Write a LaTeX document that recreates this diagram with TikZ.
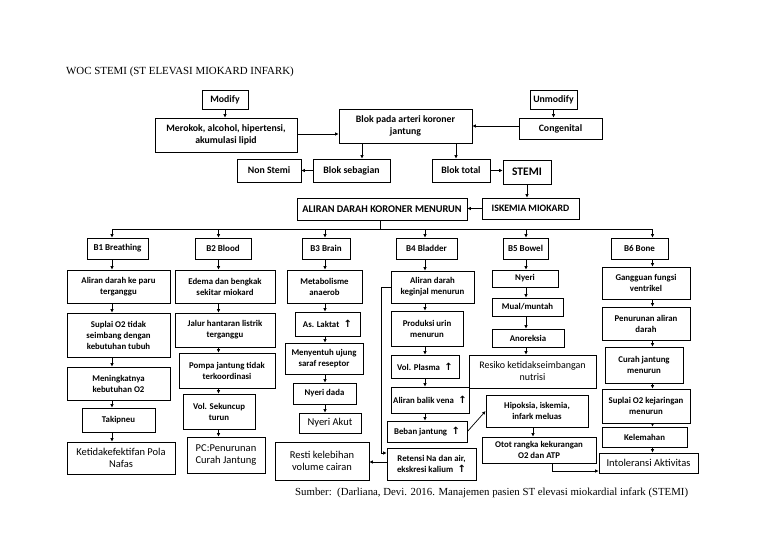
\documentclass[tikz,border=0pt]{standalone}
\usepackage{fontspec}
\setmainfont{Carlito}
\newfontfamily\serifttl{Liberation Serif}
\newfontfamily\symfont{DejaVu Sans}
\usetikzlibrary{arrows.meta}
\newcommand{\upar}{\enspace{\symfont\fontsize{10}{10}\selectfont ↑}}
\newcommand{\mkbox}[7][]{%
  \pgfmathsetmacro\mbw{#5-#3}%
  \pgfmathsetmacro\mbh{#6-#4}%
  \pgfmathsetmacro\mbx{(#3+#5)/2}%
  \pgfmathsetmacro\mby{(#4+#6)/2}%
  \node[bx,minimum width=\mbw pt,minimum height=\mbh pt,#1] (#2) at (\mbx,\mby) {#7};}
\begin{document}
\begin{tikzpicture}[x=1pt,y=-1pt,
  bx/.style={draw,line width=0.8pt,align=center,inner sep=0.5pt,font=\fontsize{8.8}{11}\selectfont\bfseries},
  topf/.style={font=\fontsize{9.8}{12.5}\selectfont\bfseries},
  bfn/.style={font=\fontsize{9}{11}\selectfont\bfseries},
  bigf/.style={font=\fontsize{10.5}{12.5}\selectfont},
  midf/.style={font=\fontsize{10}{12}\selectfont},
  arr/.style={-{Latex[length=3.5pt,width=3.5pt]},line width=0.7pt},
  ln/.style={line width=0.7pt}]
\useasboundingbox (0,0) rectangle (768,543);
\fill[white] (0,0) rectangle (768,543);
% titles
\node[anchor=west,inner sep=0,font=\serifttl\fontsize{10.9}{12}\selectfont] (ttl) at (66,72) {WOC STEMI (ST ELEVASI MIOKARD INFARK)};
\node[anchor=west,inner sep=0,font=\serifttl\fontsize{10.8}{12}\selectfont] (src) at (295,493) {Sumber:~~(Darliana, Devi. 2016. Manajemen pasien ST elevasi miokardial infark (STEMI)};
% top part
\mkbox[topf]{mod}{202}{90}{248}{109}{Modify}
\mkbox[topf]{mer}{155}{118}{297}{152}{Merokok, alcohol, hipertensi,\\akumulasi lipid}
\mkbox[topf]{blk}{339}{109}{472}{143}{Blok pada arteri koroner\\jantung}
\mkbox[topf]{unm}{530}{90}{577}{109}{Unmodify}
\mkbox[topf]{cong}{519}{118}{602}{139}{Congenital}
\mkbox[topf]{ns}{237}{159}{301}{182}{Non Stemi}
\mkbox[topf]{bs}{313}{159}{390}{182}{Blok sebagian}
\mkbox[topf]{bt}{432}{159}{490}{182}{Blok total}
\mkbox[font=\fontsize{11.5}{12}\selectfont\bfseries]{st}{503}{160}{551}{184}{STEMI}
\mkbox[font=\fontsize{10.3}{12}\selectfont\bfseries]{ali}{297}{198}{467}{220}{ALIRAN DARAH KORONER MENURUN}
\mkbox[topf]{isk}{482}{198}{579}{219}{ISKEMIA MIOKARD}
% B row
\mkbox[bfn]{b1}{87}{238}{148}{259}{B1 Breathing}
\mkbox[bfn]{b2}{195}{238}{251}{259}{B2 Blood}
\mkbox[bfn]{b3}{302}{238}{350}{259}{B3 Brain}
\mkbox[bfn]{b4}{396}{238}{457}{259}{B4 Bladder}
\mkbox[bfn]{b5}{503}{238}{548}{259}{B5 Bowel}
\mkbox[bfn]{b6}{611}{238}{668}{259}{B6 Bone}
% column 1
\mkbox{c11}{67}{270}{170}{303}{Aliran darah ke paru\\terganggu}
\mkbox{c12}{67}{313}{170}{357}{Suplai O2 tidak\\seimbang dengan\\kebutuhan tubuh}
\mkbox{c13}{67}{367}{170}{400}{Meningkatnya\\kebutuhan O2}
\mkbox{c14}{82}{408}{155}{432}{Takipneu}
\mkbox[bigf]{c15}{67}{442}{175}{474}{Ketidakefektifan Pola\\Nafas}
% column 2
\mkbox{c21}{175}{270}{275}{303}{Edema dan bengkak\\sekitar miokard}
\mkbox{c22}{175}{313}{275}{347}{Jalur hantaran listrik\\terganggu}
\mkbox{c23}{179}{353}{275}{388}{Pompa jantung tidak\\terkoordinasi}
\mkbox{c24}{183}{394}{255}{429}{Vol. Sekuncup\\turun}
\mkbox[bigf]{c25}{187}{437}{265}{473}{PC:Penurunan\\Curah Jantung}
% column 3
\mkbox{c31}{287}{270}{362}{303}{Metabolisme\\anaerob}
\mkbox{c32}{295}{312}{360}{336}{As. Laktat\upar}
\mkbox{c33}{285}{343}{363}{374}{Menyentuh ujung\\saraf reseptor}
\mkbox{c34}{293}{383}{356}{404}{Nyeri dada}
\mkbox[bigf]{c35}{299}{413}{361}{433}{Nyeri Akut}
\mkbox[bigf]{c36}{275}{442}{369}{480}{Resti kelebihan\\volume cairan}
% column 4
\mkbox{c41}{391}{271}{474}{303}{Aliran darah\\keginjal menurun}
\mkbox{c42}{391}{311}{463}{346}{Produksi urin\\menurun}
\mkbox{c43}{391}{355}{459}{378}{Vol. Plasma\upar}
\mkbox{c44}{391}{387}{469}{413}{Aliran balik vena\upar}
\mkbox{c45}{387}{421}{467}{442}{Beban jantung\upar}
\mkbox{c46}{387}{448}{476}{480}{Retensi Na dan air,\\ekskresi kalium\upar}
% column 5
\mkbox{c51}{492}{270}{558}{287}{Nyeri}
\mkbox{c52}{492}{298}{563}{316}{Mual/muntah}
\mkbox{c53}{492}{329}{564}{347}{Anoreksia}
\mkbox[midf]{c54}{469}{355}{596}{388}{Resiko ketidakseimbangan\\nutrisi}
\mkbox{c55}{486}{395}{588}{427}{Hipoksia, iskemia,\\infark meluas}
\mkbox{c56}{482}{437}{596}{463}{Otot rangka kekurangan\\O2 dan ATP}
% column 6
\mkbox{c61}{602}{267}{690}{299}{Gangguan fungsi\\ventrikel}
\mkbox{c62}{602}{307}{690}{340}{Penurunan aliran\\darah}
\mkbox{c63}{605}{347}{683}{383}{Curah jantung\\menurun}
\mkbox{c64}{602}{389}{690}{423}{Suplai O2 kejaringan\\menurun}
\mkbox{c65}{602}{427}{687}{447}{Kelemahan}
\mkbox[bigf]{c66}{599}{453}{698}{473}{Intoleransi Aktivitas}
% helper coordinates
\coordinate (ya) at (0,134);
\coordinate (yc) at (0,126);
\coordinate (xbs) at (362,0);
\coordinate (xbt) at (456,0);
\coordinate (bus) at (380,229);
\coordinate (k1) at (112,0);
\coordinate (k2) at (218.5,0);
\coordinate (k3) at (325,0);
\coordinate (k4) at (425,0);
\coordinate (k5) at (526,0);
\coordinate (k6) at (652.5,0);
\coordinate (k55) at (533,0);
\coordinate (r1) at (381,453);
\coordinate (r2) at (0,462);
\coordinate (r3) at (552,471);
% top connectors
\draw[arr] (mod.south) -- (mod.south |- mer.north);
\draw[arr] (mer.east |- ya) -- (blk.west |- ya);
\draw[arr] (unm.south) -- (unm.south |- cong.north);
\draw[arr] (cong.west |- yc) -- (blk.east |- yc);
\draw[arr] (blk.south -| xbs) -- (bs.north -| xbs);
\draw[arr] (blk.south -| xbt) -- (bt.north -| xbt);
\draw[arr] (bs.west) -- (bs.west -| ns.east);
\draw[arr] (bt.east) -- (bt.east -| st.west);
\draw[arr] (st.south) -- (st.south |- isk.north);
\draw[arr] (isk.west) -- (isk.west -| ali.east);
\draw[ln] (ali.south -| bus) -- (bus);
\draw[ln] (bus -| k1) -- (bus -| k6);
\draw[arr] (bus -| k1) -- (b1.north -| k1);
\draw[arr] (bus -| k2) -- (b2.north -| k2);
\draw[arr] (bus -| k3) -- (b3.north -| k3);
\draw[arr] (bus -| k4) -- (b4.north -| k4);
\draw[arr] (bus -| k5) -- (b5.north -| k5);
\draw[arr] (bus -| k6) -- (b6.north -| k6);
% column connectors
\foreach \a/\b in {b1/c11,c11/c12,c12/c13,c13/c14,c14/c15}
  \draw[arr] (\a.south -| k1) -- (\b.north -| k1);
\foreach \a/\b in {b2/c21,c21/c22,c22/c23,c23/c24,c24/c25}
  \draw[arr] (\a.south -| k2) -- (\b.north -| k2);
\foreach \a/\b in {b3/c31,c31/c32,c32/c33,c33/c34,c34/c35}
  \draw[arr] (\a.south -| k3) -- (\b.north -| k3);
\foreach \a/\b in {b4/c41,c41/c42,c42/c43,c43/c44,c44/c45}
  \draw[arr] (\a.south -| k4) -- (\b.north -| k4);
\foreach \a/\b in {b5/c51,c51/c52,c52/c53,c53/c54}
  \draw[arr] (\a.south -| k5) -- (\b.north -| k5);
\foreach \a/\b in {b6/c61,c61/c62,c62/c63,c63/c64,c64/c65,c65/c66}
  \draw[arr] (\a.south -| k6) -- (\b.north -| k6);
% cross connectors
\draw[arr] (c41.west) -| (r1) -- (r1 -| c46.west);
\draw[arr] (c46.west |- r2) -- (c36.east |- r2);
\draw[arr] (c45.east) -- (c55.west);
\draw[arr] (c55.south -| k55) -- (c56.north -| k55);
\draw[arr] (c56.south -| r3) -- (r3) -- (r3 -| c66.west);
\end{tikzpicture}
\end{document}
